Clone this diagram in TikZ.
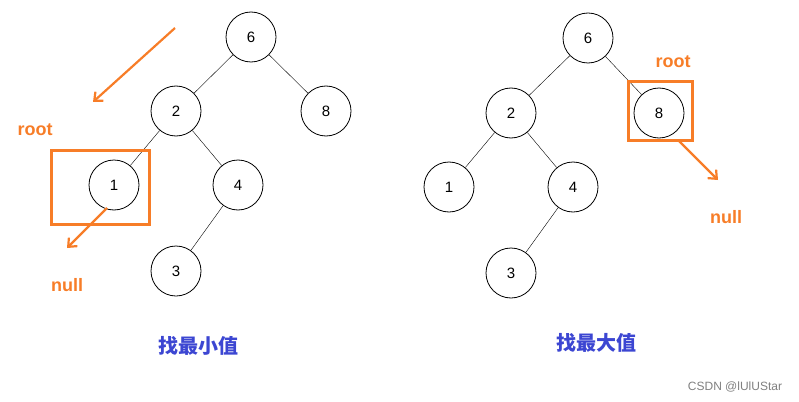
\documentclass[tikz,border=0pt]{standalone}
\usepackage{fontspec}
\setmainfont{Liberation Sans}
\newfontfamily\cjk{Noto Sans CJK SC}
\usetikzlibrary{arrows.meta}
\definecolor{org}{RGB}{247,125,40}
\definecolor{blu}{RGB}{60,70,210}
\begin{document}
\begin{tikzpicture}[x=1pt,y=-1pt,
  tn/.style={circle,draw=black,thick,minimum size=50pt,inner sep=0pt,font=\fontsize{15}{18}\selectfont},
  ob/.style={draw=org,line width=3pt},
  oa/.style={draw=org,line width=2.2pt,-{Straight Barb[length=7pt,width=12pt]}},
  ot/.style={text=org,font=\fontsize{18}{22}\selectfont\bfseries},
  ct/.style={text=blu,font=\cjk\fontsize{20}{24}\selectfont\bfseries},
  ed/.style={draw=black,thin}]
\useasboundingbox (0,0) rectangle (799,401);
% left tree
\node[tn] (a6) at (251,37) {6};
\node[tn] (a2) at (176,111) {2};
\node[tn] (a8) at (326,111) {8};
\node[tn] (a1) at (114,185) {1};
\node[tn] (a4) at (238,185) {4};
\node[tn] (a3) at (176,271) {3};
\draw[ed] (a6)--(a2) (a6)--(a8) (a2)--(a1) (a2)--(a4) (a4)--(a3);
% right tree
\node[tn] (b6) at (588,38) {6};
\node[tn] (b2) at (511,113) {2};
\node[tn] (b8) at (659,113) {8};
\node[tn] (b1) at (449,187) {1};
\node[tn] (b4) at (573,187) {4};
\node[tn] (b3) at (511,273) {3};
\draw[ed] (b6)--(b2) (b6)--(b8) (b2)--(b1) (b2)--(b4) (b4)--(b3);
% orange annotations left
\node[ob,minimum width=98pt,minimum height=74pt] (lbox) at (100,187) {};
\coordinate (s1) at (175,28);
\coordinate (e1) at (93,102);
\draw[oa] (s1)--(e1);
\node[ot] (lroot) at (35,130) {root};
\coordinate (s2) at (107,208);
\coordinate (e2) at (67,248);
\draw[oa] (s2)--(e2);
\node[ot] (lnull) at (67,285) {null};
% right
\node[ob,minimum width=64pt,minimum height=58pt] (rbox) at (660,111) {};
\node[ot] (rroot) at (673,62) {root};
\coordinate (s3) at (678,140);
\coordinate (e3) at (718,180);
\draw[oa] (s3)--(e3);
\node[ot] (rnull) at (726,217) {null};
% captions
\node[ct] (c1) at (198,346) {找最小值};
\node[ct] (c2) at (596,343) {找最大值};
\node[text=gray,font=\fontsize{12}{14}\selectfont] (wm) at (735,387) {CSDN @lUlUStar};
\end{tikzpicture}
\end{document}
